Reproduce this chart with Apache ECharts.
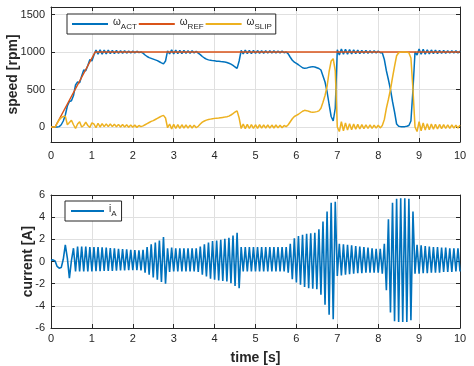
<!DOCTYPE html>
<html><head><meta charset="utf-8">
<script src="https://cdn.jsdelivr.net/npm/echarts@6/dist/echarts.min.js"></script>
<style>html,body{margin:0;padding:0;background:#fff}#c{width:474px;height:366px}</style>
</head><body><div id="c"></div>
<script>
// ---- data ----
const SPEED_DT = 0.05; // s between speed samples
const omegaAct = [
0,0,0,0,5,30,80,160,280,340,
350,420,560,600,590,680,760,750,820,900,
880,960,1025,970,1028,972,1026,975,1024,977,
1022,979,1020,981,1018,983,1016,985,1014,987,
1012,989,1010,992,1000,985,960,940,925,915,
905,895,885,870,855,842,880,1015,975,1028,
975,1025,978,1022,980,1020,982,1018,984,1016,
986,1010,985,965,940,920,905,895,890,885,
882,878,876,872,870,866,860,850,838,822,
800,782,880,1020,975,1025,977,1023,979,1021,
981,1019,983,1018,984,1017,985,1016,986,1015,
987,1014,988,1012,990,1000,975,930,890,865,
848,830,810,790,782,785,795,800,805,800,
790,780,760,680,600,470,300,140,80,250,
1030,960,1040,970,1035,972,1032,975,1028,978,
1025,980,1022,982,1020,984,1018,985,1016,987,
1014,990,990,900,750,630,500,340,200,40,
10,5,5,5,10,20,80,500,1000,960,
1040,970,1035,972,1030,975,1027,977,1025,980,
1022,982,1020,984,1018,985,1016,987,1015,988,
1012];
const omegaSlip = [
0,0,0,50,95,125,140,145,30,60,
90,30,-20,40,70,0,20,65,20,-5,
55,40,-10,50,0,45,5,42,5,40,
5,38,2,35,0,32,0,30,-2,28,
-2,25,-5,20,5,15,30,45,60,75,
85,100,115,130,145,155,120,-10,40,-25,
35,-20,32,-18,30,-16,28,-15,26,-14,
25,-10,10,40,65,80,92,100,105,110,
115,118,120,124,128,132,138,145,160,178,
200,215,120,-20,40,-22,35,-20,32,-18,
30,-17,30,-16,28,-15,28,-14,26,-13,
26,-12,24,-10,20,5,30,70,110,140,
155,170,190,210,222,218,210,200,198,200,
205,215,250,330,420,540,740,880,910,750,
0,-60,70,-50,55,-42,45,-36,40,-30,
35,-26,32,-22,30,-20,28,-18,26,-15,
24,-12,20,100,250,370,500,660,810,950,
990,998,1000,1000,998,990,920,500,0,-60,
70,-50,55,-42,45,-36,40,-30,36,-26,
34,-22,32,-20,30,-18,28,-16,26,-14,
25];
const omegaRefTime  = [0, 0.1, 1.08, 10];
const omegaRefValue = [0, 0, 1000, 1000];

const CURRENT_DT = 0.05; // s between current samples
const currentA = [
0.1,0.15,0.05,-0.45,-0.6,-0.55,0.2,1.5,0.3,-1.5,
0.1,1.2,-0.9,1.35,-0.9,1.35,-0.9,1.35,-0.9,1.3,
-0.9,1.3,-0.88,1.3,-0.88,1.28,-0.86,1.25,-0.85,1.22,
-0.85,1.2,-0.82,1.15,-0.8,1.12,-0.8,1.1,-0.78,1.05,
-0.78,1.02,-0.78,1.0,-0.8,1.05,-1.0,1.3,-1.2,1.55,
-1.45,1.7,-1.65,1.9,-1.85,2.2,-2.0,1.2,-0.95,1.25,
-0.9,1.2,-0.9,1.2,-0.9,1.2,-0.9,1.2,-0.9,1.2,
-0.9,1.2,-0.95,1.35,-1.2,1.55,-1.35,1.7,-1.55,1.85,
-1.65,1.9,-1.7,1.95,-1.75,2.05,-1.8,2.15,-1.95,2.35,
-2.2,2.6,-2.4,1.3,-0.9,1.3,-0.9,1.3,-0.9,1.3,
-0.9,1.3,-0.9,1.3,-0.9,1.3,-0.9,1.3,-0.9,1.3,
-0.9,1.3,-0.9,1.3,-0.9,1.3,-1.0,1.6,-1.6,2.1,
-1.9,2.3,-2.1,2.4,-2.3,2.5,-2.4,2.55,-2.45,2.6,
-2.5,2.9,-3.0,3.6,-3.9,4.5,-4.8,5.3,-5.2,5.4,
-1.3,1.6,-1.25,1.55,-1.2,1.5,-1.15,1.45,-1.1,1.4,
-1.05,1.35,-1.05,1.3,-1.0,1.25,-1.0,1.2,-1.0,1.15,
-1.0,1.15,-1.1,1.6,-2.6,3.8,-4.6,5.3,-5.4,5.65,
-5.45,5.7,-5.45,5.7,-5.45,5.65,-5.3,4.5,-1.1,1.5,
-1.1,1.45,-1.05,1.4,-1.05,1.35,-1.0,1.3,-1.0,1.3,
-1.0,1.25,-0.95,1.25,-0.95,1.2,-0.95,1.2,-0.9,1.2,
-0.9];

const speedTicks = [0, 500, 1000, 1500];
const currentTicks = [-6, -4, -2, 0, 2, 4, 6];
const speedRange = [-200, 1600];
const currentRange = [-6, 6];
const timeRange = [0, 10];

// ---- chart ----
const FONT = '"Liberation Sans", Arial, Helvetica, sans-serif';
const DARK = '#262626';
const GRIDC = '#e0e0e0';
const toPairs = (vals, dt) => vals.map((v, i) => [+(i * dt).toFixed(3), v]);
const refPairs = omegaRefTime.map((t, i) => [t, omegaRefValue[i]]);
const plain = v => String(v);
const nameStyle = { color: DARK, fontSize: 14, fontWeight: 'bold', fontFamily: FONT };

function xAx(grid, pos, main) {
  return {
    type: 'value', gridIndex: grid, position: pos, min: timeRange[0], max: timeRange[1], interval: 1,
    axisLine: { show: true, onZero: false, lineStyle: { color: DARK, width: 1 } },
    axisTick: { show: true, inside: true, length: 4, lineStyle: { color: DARK } },
    axisLabel: { show: main, color: DARK, fontSize: 11, fontFamily: FONT, margin: grid === 0 ? 8 : 5, formatter: plain },
    splitLine: { show: main, lineStyle: { color: GRIDC, width: 1 } }
  };
}
function yAx(grid, pos, main, range, ticks, name, gap) {
  const o = {
    type: 'value', gridIndex: grid, position: pos, min: range[0], max: range[1],
    axisLine: { show: true, onZero: false, lineStyle: { color: DARK, width: 1 } },
    axisTick: { show: true, inside: true, length: 4, lineStyle: { color: DARK }, customValues: ticks },
    axisLabel: { show: main, color: DARK, fontSize: 11, fontFamily: FONT, margin: 6, customValues: ticks, formatter: plain },
    splitLine: { show: main, lineStyle: { color: GRIDC, width: 1 } }
  };
  if (name) {
    o.name = name; o.nameLocation = 'middle'; o.nameGap = gap; o.nameMoveOverlap = false;
    o.nameTextStyle = nameStyle;
  }
  return o;
}

const legendRich = {
  w: { fontSize: 10, fontFamily: FONT, color: DARK, verticalAlign: 'top', lineHeight: 14 },
  s: { fontSize: 8, fontFamily: FONT, color: DARK, verticalAlign: 'bottom', lineHeight: 14, padding: [5, 0, 0, 0] }
};

const chart = echarts.init(document.getElementById('c'), null, { renderer: 'canvas' });
chart.setOption({
  animation: false,
  backgroundColor: '#fff',
  grid: [
    { left: 51, top: 7, width: 409, height: 135, outerBoundsMode: 'none', containLabel: false },
    { left: 51, top: 195, width: 409, height: 133, outerBoundsMode: 'none', containLabel: false }
  ],
  xAxis: [
    xAx(0, 'bottom', true), xAx(0, 'top', false),
    Object.assign(xAx(1, 'bottom', true), {
      name: 'time [s]', nameLocation: 'middle', nameGap: 23, nameMoveOverlap: false, nameTextStyle: nameStyle
    }),
    xAx(1, 'top', false)
  ],
  yAxis: [
    yAx(0, 'left', true, speedRange, speedTicks, 'speed [rpm]', 31),
    yAx(0, 'right', false, speedRange, speedTicks),
    yAx(1, 'left', true, currentRange, currentTicks, 'current [A]', 16),
    yAx(1, 'right', false, currentRange, currentTicks)
  ],
  legend: [
    {
      left: 67, top: 14, orient: 'horizontal', padding: [3, 4, 3, 4], itemGap: 1,
      itemWidth: 36, itemHeight: 14, borderColor: DARK, borderWidth: 1, backgroundColor: '#fff',
      itemStyle: { opacity: 0 },
      data: ['ωACT', 'ωREF', 'ωSLIP'],
      formatter: n => '{w|ω}{s|' + n.slice(1) + '}',
      textStyle: { color: DARK, rich: legendRich }
    },
    {
      left: 65, top: 201, orient: 'horizontal', padding: [3, 5, 3, 5],
      itemWidth: 33, itemHeight: 14, borderColor: DARK, borderWidth: 1, backgroundColor: '#fff',
      itemStyle: { opacity: 0 },
      data: ['iA'],
      formatter: n => '{w|i}{s|A}',
      textStyle: { color: DARK, rich: legendRich }
    }
  ],
  series: [
    { name: 'ωACT', type: 'line', xAxisIndex: 0, yAxisIndex: 0, data: toPairs(omegaAct, SPEED_DT),
      showSymbol: false, symbol: 'none', color: '#0072BD', lineStyle: { width: 1.5 } },
    { name: 'ωREF', type: 'line', xAxisIndex: 0, yAxisIndex: 0, data: refPairs,
      showSymbol: false, symbol: 'none', color: '#D95319', lineStyle: { width: 1.5 } },
    { name: 'ωSLIP', type: 'line', xAxisIndex: 0, yAxisIndex: 0, data: toPairs(omegaSlip, SPEED_DT),
      showSymbol: false, symbol: 'none', color: '#EDB120', lineStyle: { width: 1.5 } },
    { name: 'iA', type: 'line', xAxisIndex: 2, yAxisIndex: 2, data: toPairs(currentA, CURRENT_DT),
      showSymbol: false, symbol: 'none', color: '#0072BD', lineStyle: { width: 1.6 } }
  ]
});
</script></body></html>
